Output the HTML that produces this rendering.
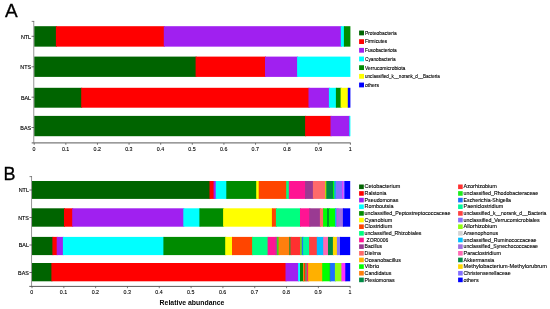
<!DOCTYPE html>
<html><head><meta charset="utf-8"><title>Relative abundance</title>
<style>
html,body{margin:0;padding:0;background:#fff;}
body{width:550px;height:309px;overflow:hidden;}
svg{display:block;font-family:"Liberation Sans",Arial,sans-serif;}
</style></head><body>
<svg width="550" height="309" viewBox="0 0 550 309">
<rect x="0" y="0" width="550" height="309" fill="#ffffff"/>
<rect x="34.20" y="26.20" width="22.70" height="20.45" fill="#006400"/>
<rect x="55.90" y="26.20" width="108.90" height="20.45" fill="#ff0000"/>
<rect x="163.80" y="26.20" width="178.00" height="20.45" fill="#a020f0"/>
<rect x="340.80" y="26.20" width="4.10" height="20.45" fill="#00ffff"/>
<rect x="343.90" y="26.20" width="6.50" height="20.45" fill="#008b00"/>
<rect x="34.20" y="56.60" width="162.40" height="20.30" fill="#006400"/>
<rect x="195.60" y="56.60" width="70.40" height="20.30" fill="#ff0000"/>
<rect x="265.00" y="56.60" width="33.10" height="20.30" fill="#a020f0"/>
<rect x="297.10" y="56.60" width="53.30" height="20.30" fill="#00ffff"/>
<rect x="34.20" y="87.80" width="48.00" height="19.90" fill="#006400"/>
<rect x="81.20" y="87.80" width="228.30" height="19.90" fill="#ff0000"/>
<rect x="308.50" y="87.80" width="21.40" height="19.90" fill="#a020f0"/>
<rect x="328.90" y="87.80" width="8.00" height="19.90" fill="#00ffff"/>
<rect x="335.90" y="87.80" width="5.70" height="19.90" fill="#008b00"/>
<rect x="340.60" y="87.80" width="8.20" height="19.90" fill="#ffff00"/>
<rect x="347.80" y="87.80" width="2.60" height="19.90" fill="#0000ff"/>
<rect x="34.20" y="115.90" width="271.90" height="20.30" fill="#006400"/>
<rect x="305.10" y="115.90" width="26.40" height="20.30" fill="#ff0000"/>
<rect x="330.50" y="115.90" width="19.49" height="20.30" fill="#a020f0"/>
<rect x="349.30" y="115.90" width="1.10" height="20.30" fill="#00ffff"/>
<line x1="33.75" y1="21.20" x2="33.75" y2="143.00" stroke="#8a8a8a" stroke-width="0.9"/>
<line x1="31.70" y1="21.40" x2="34.20" y2="21.40" stroke="#555" stroke-width="0.7"/>
<line x1="31.70" y1="142.90" x2="350.70" y2="142.90" stroke="#7a7a7a" stroke-width="1.1"/>
<line x1="31.50" y1="36.30" x2="34.20" y2="36.30" stroke="#3a3a3a" stroke-width="0.7"/>
<text transform="translate(31.10,38.60) scale(0.93,1)" font-size="5.8" text-anchor="end" font-weight="normal" fill="#000" stroke="#000" stroke-width="0.14">NTL</text>
<line x1="31.50" y1="66.80" x2="34.20" y2="66.80" stroke="#3a3a3a" stroke-width="0.7"/>
<text transform="translate(31.10,69.10) scale(0.93,1)" font-size="5.8" text-anchor="end" font-weight="normal" fill="#000" stroke="#000" stroke-width="0.14">NTS</text>
<line x1="31.50" y1="97.20" x2="34.20" y2="97.20" stroke="#3a3a3a" stroke-width="0.7"/>
<text transform="translate(31.10,99.50) scale(0.93,1)" font-size="5.8" text-anchor="end" font-weight="normal" fill="#000" stroke="#000" stroke-width="0.14">BAL</text>
<line x1="31.50" y1="127.50" x2="34.20" y2="127.50" stroke="#3a3a3a" stroke-width="0.7"/>
<text transform="translate(31.10,129.80) scale(0.93,1)" font-size="5.8" text-anchor="end" font-weight="normal" fill="#000" stroke="#000" stroke-width="0.14">BAS</text>
<line x1="34.20" y1="143.00" x2="34.20" y2="144.80" stroke="#444" stroke-width="0.7"/>
<text transform="translate(33.95,150.70) scale(0.87,1)" font-size="6.1" text-anchor="middle" font-weight="normal" fill="#000" stroke="#000" stroke-width="0.1">0</text>
<line x1="65.82" y1="143.00" x2="65.82" y2="144.80" stroke="#444" stroke-width="0.7"/>
<text transform="translate(65.57,150.70) scale(0.87,1)" font-size="6.1" text-anchor="middle" font-weight="normal" fill="#000" stroke="#000" stroke-width="0.1">0.1</text>
<line x1="97.44" y1="143.00" x2="97.44" y2="144.80" stroke="#444" stroke-width="0.7"/>
<text transform="translate(97.19,150.70) scale(0.87,1)" font-size="6.1" text-anchor="middle" font-weight="normal" fill="#000" stroke="#000" stroke-width="0.1">0.2</text>
<line x1="129.06" y1="143.00" x2="129.06" y2="144.80" stroke="#444" stroke-width="0.7"/>
<text transform="translate(128.81,150.70) scale(0.87,1)" font-size="6.1" text-anchor="middle" font-weight="normal" fill="#000" stroke="#000" stroke-width="0.1">0.3</text>
<line x1="160.68" y1="143.00" x2="160.68" y2="144.80" stroke="#444" stroke-width="0.7"/>
<text transform="translate(160.43,150.70) scale(0.87,1)" font-size="6.1" text-anchor="middle" font-weight="normal" fill="#000" stroke="#000" stroke-width="0.1">0.4</text>
<line x1="192.30" y1="143.00" x2="192.30" y2="144.80" stroke="#444" stroke-width="0.7"/>
<text transform="translate(192.05,150.70) scale(0.87,1)" font-size="6.1" text-anchor="middle" font-weight="normal" fill="#000" stroke="#000" stroke-width="0.1">0.5</text>
<line x1="223.92" y1="143.00" x2="223.92" y2="144.80" stroke="#444" stroke-width="0.7"/>
<text transform="translate(223.67,150.70) scale(0.87,1)" font-size="6.1" text-anchor="middle" font-weight="normal" fill="#000" stroke="#000" stroke-width="0.1">0.6</text>
<line x1="255.54" y1="143.00" x2="255.54" y2="144.80" stroke="#444" stroke-width="0.7"/>
<text transform="translate(255.29,150.70) scale(0.87,1)" font-size="6.1" text-anchor="middle" font-weight="normal" fill="#000" stroke="#000" stroke-width="0.1">0.7</text>
<line x1="287.16" y1="143.00" x2="287.16" y2="144.80" stroke="#444" stroke-width="0.7"/>
<text transform="translate(286.91,150.70) scale(0.87,1)" font-size="6.1" text-anchor="middle" font-weight="normal" fill="#000" stroke="#000" stroke-width="0.1">0.8</text>
<line x1="318.78" y1="143.00" x2="318.78" y2="144.80" stroke="#444" stroke-width="0.7"/>
<text transform="translate(318.53,150.70) scale(0.87,1)" font-size="6.1" text-anchor="middle" font-weight="normal" fill="#000" stroke="#000" stroke-width="0.1">0.9</text>
<line x1="350.40" y1="143.00" x2="350.40" y2="144.80" stroke="#444" stroke-width="0.7"/>
<text transform="translate(350.15,150.70) scale(0.87,1)" font-size="6.1" text-anchor="middle" font-weight="normal" fill="#000" stroke="#000" stroke-width="0.1">1</text>
<text x="5.10" y="17.40" font-size="19" text-anchor="start" font-weight="normal" fill="#000" stroke="#000" stroke-width="0.3">A</text>
<rect x="359.10" y="30.55" width="4.90" height="4.80" fill="#006400"/>
<text x="365.00" y="34.60" font-size="5.5" text-anchor="start" font-weight="normal" fill="#000" stroke="#000" stroke-width="0.12" textLength="31.6" lengthAdjust="spacingAndGlyphs">Proteobacteria</text>
<rect x="359.10" y="39.22" width="4.90" height="4.80" fill="#ff0000"/>
<text x="365.00" y="43.34" font-size="5.5" text-anchor="start" font-weight="normal" fill="#000" stroke="#000" stroke-width="0.12" textLength="22.1" lengthAdjust="spacingAndGlyphs">Firmicutes</text>
<rect x="359.10" y="47.89" width="4.90" height="4.80" fill="#a020f0"/>
<text x="365.00" y="52.08" font-size="5.5" text-anchor="start" font-weight="normal" fill="#000" stroke="#000" stroke-width="0.12" textLength="31.8" lengthAdjust="spacingAndGlyphs">Fusobacteriota</text>
<rect x="359.10" y="56.56" width="4.90" height="4.80" fill="#00ffff"/>
<text x="365.00" y="60.82" font-size="5.5" text-anchor="start" font-weight="normal" fill="#000" stroke="#000" stroke-width="0.12" textLength="30.6" lengthAdjust="spacingAndGlyphs">Cyanobacteria</text>
<rect x="359.10" y="65.23" width="4.90" height="4.80" fill="#008b00"/>
<text x="365.00" y="69.56" font-size="5.5" text-anchor="start" font-weight="normal" fill="#000" stroke="#000" stroke-width="0.12" textLength="40.3" lengthAdjust="spacingAndGlyphs">Verrucomicrobiota</text>
<rect x="359.10" y="73.90" width="4.90" height="4.80" fill="#ffff00"/>
<text x="365.00" y="78.30" font-size="5.5" text-anchor="start" font-weight="normal" fill="#000" stroke="#000" stroke-width="0.12" textLength="74.8" lengthAdjust="spacingAndGlyphs">unclassified_k__norank_d__Bacteria</text>
<rect x="359.10" y="82.57" width="4.90" height="4.80" fill="#0000ff"/>
<text x="365.00" y="87.04" font-size="5.5" text-anchor="start" font-weight="normal" fill="#000" stroke="#000" stroke-width="0.12" textLength="14.1" lengthAdjust="spacingAndGlyphs">others</text>
<rect x="32.00" y="181.00" width="178.50" height="17.90" fill="#006400"/>
<rect x="209.50" y="181.00" width="5.10" height="17.90" fill="#ff0000"/>
<rect x="213.60" y="181.00" width="3.10" height="17.90" fill="#a020f0"/>
<rect x="215.70" y="181.00" width="11.60" height="17.90" fill="#00ffff"/>
<rect x="226.30" y="181.00" width="30.90" height="17.90" fill="#008b00"/>
<rect x="256.20" y="181.00" width="3.50" height="17.90" fill="#ffff00"/>
<rect x="258.70" y="181.00" width="28.50" height="17.90" fill="#ff4500"/>
<rect x="286.20" y="181.00" width="3.60" height="17.90" fill="#00ff7f"/>
<rect x="288.80" y="181.00" width="17.30" height="17.90" fill="#ff1493"/>
<rect x="305.10" y="181.00" width="8.80" height="17.90" fill="#9a3a92"/>
<rect x="312.90" y="181.00" width="13.20" height="17.90" fill="#ff6a6a"/>
<rect x="325.10" y="181.00" width="2.20" height="17.90" fill="#b0e000"/>
<rect x="326.30" y="181.00" width="7.70" height="17.90" fill="#008b45"/>
<rect x="333.00" y="181.00" width="2.20" height="17.90" fill="#00ff00"/>
<rect x="334.20" y="181.00" width="2.80" height="17.90" fill="#20a0f0"/>
<rect x="336.00" y="181.00" width="7.10" height="17.90" fill="#8470ff"/>
<rect x="342.10" y="181.00" width="2.30" height="17.90" fill="#e040ff"/>
<rect x="343.40" y="181.00" width="2.00" height="17.90" fill="#b090ff"/>
<rect x="344.40" y="181.00" width="5.80" height="17.90" fill="#0000ff"/>
<rect x="32.00" y="208.30" width="33.00" height="18.40" fill="#006400"/>
<rect x="64.00" y="208.30" width="9.20" height="18.40" fill="#ff0000"/>
<rect x="72.20" y="208.30" width="112.10" height="18.40" fill="#a020f0"/>
<rect x="183.30" y="208.30" width="17.10" height="18.40" fill="#00ffff"/>
<rect x="199.40" y="208.30" width="24.70" height="18.40" fill="#008b00"/>
<rect x="223.10" y="208.30" width="49.80" height="18.40" fill="#ffff00"/>
<rect x="271.90" y="208.30" width="5.00" height="18.40" fill="#ff4500"/>
<rect x="275.90" y="208.30" width="25.10" height="18.40" fill="#00ff7f"/>
<rect x="300.00" y="208.30" width="10.30" height="18.40" fill="#ff1493"/>
<rect x="309.30" y="208.30" width="11.60" height="18.40" fill="#9a3a92"/>
<rect x="319.90" y="208.30" width="4.20" height="18.40" fill="#ff6a6a"/>
<rect x="323.10" y="208.30" width="5.00" height="18.40" fill="#00ff00"/>
<rect x="327.10" y="208.30" width="2.80" height="18.40" fill="#009030"/>
<rect x="328.90" y="208.30" width="7.10" height="18.40" fill="#00ff00"/>
<rect x="335.00" y="208.30" width="2.50" height="18.40" fill="#10b0f0"/>
<rect x="336.50" y="208.30" width="2.00" height="18.40" fill="#e040e0"/>
<rect x="337.50" y="208.30" width="6.40" height="18.40" fill="#9f70e0"/>
<rect x="342.90" y="208.30" width="7.30" height="18.40" fill="#0000ff"/>
<rect x="32.00" y="236.90" width="21.40" height="18.20" fill="#006400"/>
<rect x="52.40" y="236.90" width="5.30" height="18.20" fill="#ff0000"/>
<rect x="56.70" y="236.90" width="7.20" height="18.20" fill="#a020f0"/>
<rect x="62.90" y="236.90" width="101.50" height="18.20" fill="#00ffff"/>
<rect x="163.40" y="236.90" width="62.80" height="18.20" fill="#008b00"/>
<rect x="225.20" y="236.90" width="7.80" height="18.20" fill="#ffff00"/>
<rect x="232.00" y="236.90" width="21.10" height="18.20" fill="#ff4500"/>
<rect x="252.10" y="236.90" width="16.50" height="18.20" fill="#00ff7f"/>
<rect x="267.60" y="236.90" width="8.90" height="18.20" fill="#ff1493"/>
<rect x="275.50" y="236.90" width="2.40" height="18.20" fill="#b040a0"/>
<rect x="276.90" y="236.90" width="2.70" height="18.20" fill="#38d818"/>
<rect x="278.60" y="236.90" width="11.40" height="18.20" fill="#ff7f0e"/>
<rect x="289.00" y="236.90" width="2.60" height="18.20" fill="#55882c"/>
<rect x="290.60" y="236.90" width="10.50" height="18.20" fill="#ff3030"/>
<rect x="300.10" y="236.90" width="2.70" height="18.20" fill="#70d820"/>
<rect x="301.80" y="236.90" width="2.30" height="18.20" fill="#1e70ff"/>
<rect x="303.10" y="236.90" width="7.00" height="18.20" fill="#00fa9a"/>
<rect x="309.10" y="236.90" width="8.70" height="18.20" fill="#ff4040"/>
<rect x="316.80" y="236.90" width="7.40" height="18.20" fill="#00bfff"/>
<rect x="323.20" y="236.90" width="5.80" height="18.20" fill="#ff69b4"/>
<rect x="328.00" y="236.90" width="5.90" height="18.20" fill="#008b45"/>
<rect x="332.90" y="236.90" width="5.00" height="18.20" fill="#ffd700"/>
<rect x="336.90" y="236.90" width="4.10" height="18.20" fill="#8470ff"/>
<rect x="340.00" y="236.90" width="10.20" height="18.20" fill="#0000ff"/>
<rect x="32.00" y="263.00" width="20.40" height="18.30" fill="#006400"/>
<rect x="51.40" y="263.00" width="235.10" height="18.30" fill="#ff0000"/>
<rect x="285.50" y="263.00" width="13.60" height="18.30" fill="#a020f0"/>
<rect x="298.10" y="263.00" width="2.90" height="18.30" fill="#00ffff"/>
<rect x="300.00" y="263.00" width="4.10" height="18.30" fill="#008b00"/>
<rect x="303.10" y="263.00" width="1.60" height="18.30" fill="#ffb020"/>
<rect x="303.70" y="263.00" width="2.60" height="18.30" fill="#ff3000"/>
<rect x="305.30" y="263.00" width="2.20" height="18.30" fill="#28c468"/>
<rect x="306.50" y="263.00" width="2.60" height="18.30" fill="#ff1c70"/>
<rect x="308.10" y="263.00" width="15.10" height="18.30" fill="#ffb000"/>
<rect x="322.20" y="263.00" width="8.40" height="18.30" fill="#00ff00"/>
<rect x="329.60" y="263.00" width="1.60" height="18.30" fill="#20a060"/>
<rect x="330.20" y="263.00" width="5.70" height="18.30" fill="#1e70ff"/>
<rect x="334.90" y="263.00" width="7.50" height="18.30" fill="#90ff10"/>
<rect x="341.40" y="263.00" width="4.90" height="18.30" fill="#ff30ff"/>
<rect x="345.30" y="263.00" width="4.90" height="18.30" fill="#0000ff"/>
<line x1="31.55" y1="176.40" x2="31.55" y2="286.50" stroke="#8a8a8a" stroke-width="0.9"/>
<line x1="29.50" y1="176.60" x2="32.00" y2="176.60" stroke="#555" stroke-width="0.7"/>
<line x1="29.30" y1="286.40" x2="350.50" y2="286.40" stroke="#5a5a5a" stroke-width="1.0"/>
<line x1="29.40" y1="190.00" x2="32.00" y2="190.00" stroke="#3a3a3a" stroke-width="0.7"/>
<text transform="translate(28.90,192.30) scale(0.93,1)" font-size="5.8" text-anchor="end" font-weight="normal" fill="#000" stroke="#000" stroke-width="0.14">NTL</text>
<line x1="29.40" y1="217.50" x2="32.00" y2="217.50" stroke="#3a3a3a" stroke-width="0.7"/>
<text transform="translate(28.90,219.80) scale(0.93,1)" font-size="5.8" text-anchor="end" font-weight="normal" fill="#000" stroke="#000" stroke-width="0.14">NTS</text>
<line x1="29.40" y1="245.00" x2="32.00" y2="245.00" stroke="#3a3a3a" stroke-width="0.7"/>
<text transform="translate(28.90,247.30) scale(0.93,1)" font-size="5.8" text-anchor="end" font-weight="normal" fill="#000" stroke="#000" stroke-width="0.14">BAL</text>
<line x1="29.40" y1="272.50" x2="32.00" y2="272.50" stroke="#3a3a3a" stroke-width="0.7"/>
<text transform="translate(28.90,274.80) scale(0.93,1)" font-size="5.8" text-anchor="end" font-weight="normal" fill="#000" stroke="#000" stroke-width="0.14">BAS</text>
<line x1="32.00" y1="286.50" x2="32.00" y2="288.20" stroke="#444" stroke-width="0.7"/>
<text transform="translate(31.70,294.45) scale(0.87,1)" font-size="6.1" text-anchor="middle" font-weight="normal" fill="#000" stroke="#000" stroke-width="0.1">0</text>
<line x1="63.82" y1="286.50" x2="63.82" y2="288.20" stroke="#444" stroke-width="0.7"/>
<text transform="translate(63.52,294.45) scale(0.87,1)" font-size="6.1" text-anchor="middle" font-weight="normal" fill="#000" stroke="#000" stroke-width="0.1">0.1</text>
<line x1="95.64" y1="286.50" x2="95.64" y2="288.20" stroke="#444" stroke-width="0.7"/>
<text transform="translate(95.34,294.45) scale(0.87,1)" font-size="6.1" text-anchor="middle" font-weight="normal" fill="#000" stroke="#000" stroke-width="0.1">0.2</text>
<line x1="127.46" y1="286.50" x2="127.46" y2="288.20" stroke="#444" stroke-width="0.7"/>
<text transform="translate(127.16,294.45) scale(0.87,1)" font-size="6.1" text-anchor="middle" font-weight="normal" fill="#000" stroke="#000" stroke-width="0.1">0.3</text>
<line x1="159.28" y1="286.50" x2="159.28" y2="288.20" stroke="#444" stroke-width="0.7"/>
<text transform="translate(158.98,294.45) scale(0.87,1)" font-size="6.1" text-anchor="middle" font-weight="normal" fill="#000" stroke="#000" stroke-width="0.1">0.4</text>
<line x1="191.10" y1="286.50" x2="191.10" y2="288.20" stroke="#444" stroke-width="0.7"/>
<text transform="translate(190.80,294.45) scale(0.87,1)" font-size="6.1" text-anchor="middle" font-weight="normal" fill="#000" stroke="#000" stroke-width="0.1">0.5</text>
<line x1="222.92" y1="286.50" x2="222.92" y2="288.20" stroke="#444" stroke-width="0.7"/>
<text transform="translate(222.62,294.45) scale(0.87,1)" font-size="6.1" text-anchor="middle" font-weight="normal" fill="#000" stroke="#000" stroke-width="0.1">0.6</text>
<line x1="254.74" y1="286.50" x2="254.74" y2="288.20" stroke="#444" stroke-width="0.7"/>
<text transform="translate(254.44,294.45) scale(0.87,1)" font-size="6.1" text-anchor="middle" font-weight="normal" fill="#000" stroke="#000" stroke-width="0.1">0.7</text>
<line x1="286.56" y1="286.50" x2="286.56" y2="288.20" stroke="#444" stroke-width="0.7"/>
<text transform="translate(286.26,294.45) scale(0.87,1)" font-size="6.1" text-anchor="middle" font-weight="normal" fill="#000" stroke="#000" stroke-width="0.1">0.8</text>
<line x1="318.38" y1="286.50" x2="318.38" y2="288.20" stroke="#444" stroke-width="0.7"/>
<text transform="translate(318.08,294.45) scale(0.87,1)" font-size="6.1" text-anchor="middle" font-weight="normal" fill="#000" stroke="#000" stroke-width="0.1">0.9</text>
<line x1="350.20" y1="286.50" x2="350.20" y2="288.20" stroke="#444" stroke-width="0.7"/>
<text transform="translate(349.90,294.45) scale(0.87,1)" font-size="6.1" text-anchor="middle" font-weight="normal" fill="#000" stroke="#000" stroke-width="0.1">1</text>
<text x="3.50" y="180.30" font-size="18" text-anchor="start" font-weight="normal" fill="#000" stroke="#000" stroke-width="0.3">B</text>
<text x="192.00" y="305.10" font-size="6.4" text-anchor="middle" font-weight="bold" fill="#000" textLength="64.8" lengthAdjust="spacingAndGlyphs">Relative abundance</text>
<rect x="359.10" y="184.50" width="4.70" height="4.60" fill="#006400"/>
<text x="364.60" y="188.30" font-size="5.8" text-anchor="start" font-weight="normal" fill="#000" stroke="#000" stroke-width="0.12" textLength="35.7" lengthAdjust="spacingAndGlyphs">Cetobacterium</text>
<rect x="359.10" y="191.15" width="4.70" height="4.60" fill="#ff0000"/>
<text x="364.60" y="194.97" font-size="5.8" text-anchor="start" font-weight="normal" fill="#000" stroke="#000" stroke-width="0.12" textLength="21.9" lengthAdjust="spacingAndGlyphs">Ralstonia</text>
<rect x="359.10" y="197.80" width="4.70" height="4.60" fill="#a020f0"/>
<text x="364.60" y="201.64" font-size="5.8" text-anchor="start" font-weight="normal" fill="#000" stroke="#000" stroke-width="0.12" textLength="33.8" lengthAdjust="spacingAndGlyphs">Pseudomonas</text>
<rect x="359.10" y="204.45" width="4.70" height="4.60" fill="#00ffff"/>
<text x="364.60" y="208.31" font-size="5.8" text-anchor="start" font-weight="normal" fill="#000" stroke="#000" stroke-width="0.12" textLength="28.9" lengthAdjust="spacingAndGlyphs">Romboutsia</text>
<rect x="359.10" y="211.10" width="4.70" height="4.60" fill="#008b00"/>
<text x="364.60" y="214.98" font-size="5.8" text-anchor="start" font-weight="normal" fill="#000" stroke="#000" stroke-width="0.12" textLength="85.9" lengthAdjust="spacingAndGlyphs">unclassified_Peptostreptococcaceae</text>
<rect x="359.10" y="217.75" width="4.70" height="4.60" fill="#ffff00"/>
<text x="364.60" y="221.65" font-size="5.8" text-anchor="start" font-weight="normal" fill="#000" stroke="#000" stroke-width="0.12" textLength="27.7" lengthAdjust="spacingAndGlyphs">Cyanobium</text>
<rect x="359.10" y="224.40" width="4.70" height="4.60" fill="#ff4500"/>
<text x="364.60" y="228.32" font-size="5.8" text-anchor="start" font-weight="normal" fill="#000" stroke="#000" stroke-width="0.12" textLength="27.7" lengthAdjust="spacingAndGlyphs">Clostridium</text>
<rect x="359.10" y="231.05" width="4.70" height="4.60" fill="#00ff7f"/>
<text x="364.60" y="234.99" font-size="5.8" text-anchor="start" font-weight="normal" fill="#000" stroke="#000" stroke-width="0.12" textLength="56.8" lengthAdjust="spacingAndGlyphs">unclassified_Rhizobiales</text>
<rect x="359.10" y="237.70" width="4.70" height="4.60" fill="#ff1493"/>
<text x="366.60" y="241.66" font-size="5.8" text-anchor="start" font-weight="normal" fill="#000" stroke="#000" stroke-width="0.12" textLength="21.6" lengthAdjust="spacingAndGlyphs">ZOR0006</text>
<rect x="359.10" y="244.35" width="4.70" height="4.60" fill="#9a3a92"/>
<text x="364.60" y="248.33" font-size="5.8" text-anchor="start" font-weight="normal" fill="#000" stroke="#000" stroke-width="0.12" textLength="17.5" lengthAdjust="spacingAndGlyphs">Bacillus</text>
<rect x="359.10" y="251.00" width="4.70" height="4.60" fill="#ff6a6a"/>
<text x="364.60" y="255.00" font-size="5.8" text-anchor="start" font-weight="normal" fill="#000" stroke="#000" stroke-width="0.12" textLength="16.3" lengthAdjust="spacingAndGlyphs">Dielma</text>
<rect x="359.10" y="257.65" width="4.70" height="4.60" fill="#ffb000"/>
<text x="364.60" y="261.67" font-size="5.8" text-anchor="start" font-weight="normal" fill="#000" stroke="#000" stroke-width="0.12" textLength="36.2" lengthAdjust="spacingAndGlyphs">Oceanobacillus</text>
<rect x="359.10" y="264.30" width="4.70" height="4.60" fill="#00ff00"/>
<text x="364.60" y="268.34" font-size="5.8" text-anchor="start" font-weight="normal" fill="#000" stroke="#000" stroke-width="0.12" textLength="14.5" lengthAdjust="spacingAndGlyphs">Vibrio</text>
<rect x="359.10" y="270.95" width="4.70" height="4.60" fill="#ff7f0e"/>
<text x="364.60" y="275.01" font-size="5.8" text-anchor="start" font-weight="normal" fill="#000" stroke="#000" stroke-width="0.12" textLength="26.7" lengthAdjust="spacingAndGlyphs">Candidatus</text>
<rect x="359.10" y="277.60" width="4.70" height="4.60" fill="#008b45"/>
<text x="364.60" y="281.68" font-size="5.8" text-anchor="start" font-weight="normal" fill="#000" stroke="#000" stroke-width="0.12" textLength="30.0" lengthAdjust="spacingAndGlyphs">Plesiomonas</text>
<rect x="458.10" y="184.50" width="4.60" height="4.60" fill="#ff3030"/>
<text x="463.60" y="188.30" font-size="5.8" text-anchor="start" font-weight="normal" fill="#000" stroke="#000" stroke-width="0.12" textLength="33.3" lengthAdjust="spacingAndGlyphs">Azorhizobium</text>
<rect x="458.10" y="191.15" width="4.60" height="4.60" fill="#1ceb1c"/>
<text x="463.60" y="194.97" font-size="5.8" text-anchor="start" font-weight="normal" fill="#000" stroke="#000" stroke-width="0.12" textLength="74.6" lengthAdjust="spacingAndGlyphs">unclassified_Rhodobacteraceae</text>
<rect x="458.10" y="197.80" width="4.60" height="4.60" fill="#1e70ff"/>
<text x="463.60" y="201.64" font-size="5.8" text-anchor="start" font-weight="normal" fill="#000" stroke="#000" stroke-width="0.12" textLength="47.4" lengthAdjust="spacingAndGlyphs">Escherichia-Shigella</text>
<rect x="458.10" y="204.45" width="4.60" height="4.60" fill="#00fa9a"/>
<text x="463.60" y="208.31" font-size="5.8" text-anchor="start" font-weight="normal" fill="#000" stroke="#000" stroke-width="0.12" textLength="39.6" lengthAdjust="spacingAndGlyphs">Paeniclostridium</text>
<rect x="458.10" y="211.10" width="4.60" height="4.60" fill="#ff4040"/>
<text x="463.60" y="214.98" font-size="5.8" text-anchor="start" font-weight="normal" fill="#000" stroke="#000" stroke-width="0.12" textLength="82.8" lengthAdjust="spacingAndGlyphs">unclassified_k__norank_d__Bacteria</text>
<rect x="458.10" y="217.75" width="4.60" height="4.60" fill="#8470ff"/>
<text x="463.60" y="221.65" font-size="5.8" text-anchor="start" font-weight="normal" fill="#000" stroke="#000" stroke-width="0.12" textLength="76.0" lengthAdjust="spacingAndGlyphs">unclassified_Verrucomicrobiales</text>
<rect x="458.10" y="224.40" width="4.60" height="4.60" fill="#90ff10"/>
<text x="463.60" y="228.32" font-size="5.8" text-anchor="start" font-weight="normal" fill="#000" stroke="#000" stroke-width="0.12" textLength="33.3" lengthAdjust="spacingAndGlyphs">Allorhizobium</text>
<rect x="458.10" y="231.05" width="4.60" height="4.60" fill="#d3d3d3"/>
<text x="463.60" y="234.99" font-size="5.8" text-anchor="start" font-weight="normal" fill="#000" stroke="#000" stroke-width="0.12" textLength="34.5" lengthAdjust="spacingAndGlyphs">Arsenophonus</text>
<rect x="458.10" y="237.70" width="4.60" height="4.60" fill="#00bfff"/>
<text x="463.60" y="241.66" font-size="5.8" text-anchor="start" font-weight="normal" fill="#000" stroke="#000" stroke-width="0.12" textLength="72.9" lengthAdjust="spacingAndGlyphs">unclassified_Ruminococcaceae</text>
<rect x="458.10" y="244.35" width="4.60" height="4.60" fill="#9f70e0"/>
<text x="463.60" y="248.33" font-size="5.8" text-anchor="start" font-weight="normal" fill="#000" stroke="#000" stroke-width="0.12" textLength="74.4" lengthAdjust="spacingAndGlyphs">unclassified_Synechococcaceae</text>
<rect x="458.10" y="251.00" width="4.60" height="4.60" fill="#ff69b4"/>
<text x="463.60" y="255.00" font-size="5.8" text-anchor="start" font-weight="normal" fill="#000" stroke="#000" stroke-width="0.12" textLength="37.5" lengthAdjust="spacingAndGlyphs">Paraclostridium</text>
<rect x="458.10" y="257.65" width="4.60" height="4.60" fill="#008b45"/>
<text x="463.60" y="261.67" font-size="5.8" text-anchor="start" font-weight="normal" fill="#000" stroke="#000" stroke-width="0.12" textLength="30.7" lengthAdjust="spacingAndGlyphs">Akkermansia</text>
<rect x="458.10" y="264.30" width="4.60" height="4.60" fill="#ffd700"/>
<text x="463.60" y="268.34" font-size="5.8" text-anchor="start" font-weight="normal" fill="#000" stroke="#000" stroke-width="0.12" textLength="83.3" lengthAdjust="spacingAndGlyphs">Methylobacterium-Methylorubrum</text>
<rect x="458.10" y="270.95" width="4.60" height="4.60" fill="#8470ff"/>
<text x="463.60" y="275.01" font-size="5.8" text-anchor="start" font-weight="normal" fill="#000" stroke="#000" stroke-width="0.12" textLength="47.0" lengthAdjust="spacingAndGlyphs">Christensenellaceae</text>
<rect x="458.10" y="277.60" width="4.60" height="4.60" fill="#0000ff"/>
<text x="463.60" y="281.68" font-size="5.8" text-anchor="start" font-weight="normal" fill="#000" stroke="#000" stroke-width="0.12" textLength="15.0" lengthAdjust="spacingAndGlyphs">others</text>
</svg>
</body></html>
